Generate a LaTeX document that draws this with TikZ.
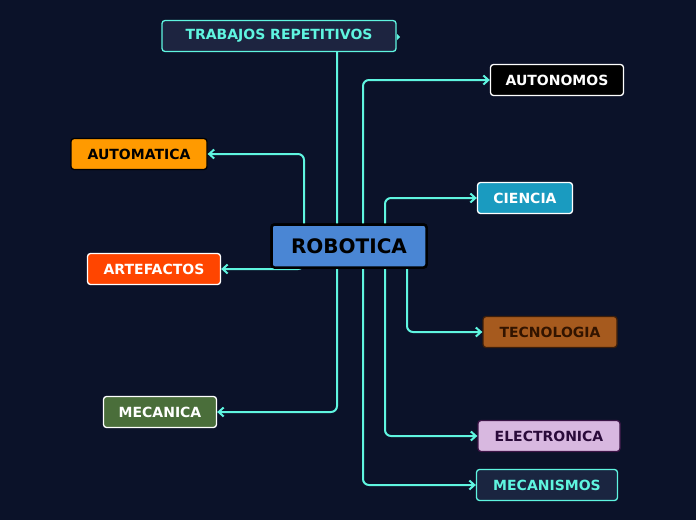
\documentclass[tikz,border=0pt]{standalone}
\usepackage{fontspec}
\setmainfont{DejaVu Sans}
\begin{document}
\begin{tikzpicture}[x=1pt,y=-1pt,
  box/.style={draw,rounded corners=3pt,line width=1.3pt,minimum height=31pt,inner sep=2pt,font=\fontsize{14}{16}\selectfont\bfseries},
  con/.style={draw=cyanl,line width=2pt,rounded corners=6pt},
  arr/.style={con,-{Straight Barb[length=5pt,width=9pt]}}]
\usetikzlibrary{arrows.meta}
\definecolor{bg}{HTML}{0B1229}
\definecolor{cyanl}{HTML}{5FF5E0}
\fill[bg] (0,0) rectangle (696,520);
\useasboundingbox (0,0) rectangle (696,520);
\node[box,fill=black,draw=black,line width=2.5pt,minimum width=155pt,minimum height=43pt,fill={rgb,255:red,74;green,134;blue,212},font=\fontsize{20}{22}\selectfont\bfseries,text=black] (rob) at (349,246) {ROBOTICA};
\node[box,fill={rgb,255:red,29;green,36;blue,64},draw=cyanl,text=cyanl,minimum width=234pt] (tra) at (279,36) {TRABAJOS REPETITIVOS};
\fill[cyanl] (397,34) -- (400,37) -- (397,40) -- cycle;
\node[box,fill=black,draw=white,text=white,minimum width=133pt] (aut) at (557,80) {AUTONOMOS};
\node[box,fill={rgb,255:red,255;green,154;blue,0},draw=black,text=black,minimum width=136pt] (atm) at (139,154) {AUTOMATICA};
\node[box,fill={rgb,255:red,26;green,155;blue,192},draw=white,text=white,minimum width=95pt] (cie) at (525,198) {CIENCIA};
\node[box,fill={rgb,255:red,255;green,69;blue,0},draw=white,text=white,minimum width=133pt] (art) at (154,269) {ARTEFACTOS};
\node[box,fill={rgb,255:red,166;green,90;blue,30},draw={rgb,255:red,60;green,30;blue,10},text={rgb,255:red,50;green,20;blue,0},minimum width=134pt] (tec) at (550,332) {TECNOLOGIA};
\node[box,fill={rgb,255:red,74;green,110;blue,58},draw=white,text=white,minimum width=113pt] (mec) at (160,412) {MECANICA};
\node[box,fill={rgb,255:red,216;green,184;blue,224},draw={rgb,255:red,60;green,20;blue,70},text={rgb,255:red,42;green,10;blue,58},minimum width=142pt] (ele) at (549,436) {ELECTRONICA};
\node[box,fill={rgb,255:red,26;green,37;blue,64},draw=cyanl,text=cyanl,minimum width=141pt] (mcs) at (547,485) {MECANISMOS};
\begin{scope}[on background layer/.style={}]
\end{scope}
\coordinate (t1) at (337,52);
\draw[arr] (t1) |- (mec.east);
\coordinate (a1) at (304,224);
\draw[arr] (a1) |- (atm.east);
\coordinate (a2) at (304,262);
\draw[arr] (a2) |- (art.east);
\coordinate (m1) at (363,267);
\draw[arr] (m1) |- (aut.west);
\draw[arr] (m1) |- (mcs.west);
\coordinate (c1) at (385,267);
\draw[arr] (c1) |- (cie.west);
\draw[arr] (c1) |- (ele.west);
\coordinate (e1) at (407,267);
\draw[arr] (e1) |- (tec.west);
\node[box,fill={rgb,255:red,74;green,134;blue,212},draw=black,line width=2.5pt,minimum width=155pt,minimum height=43pt,font=\fontsize{20}{22}\selectfont\bfseries,text=black] at (349,246) {ROBOTICA};
\end{tikzpicture}
\end{document}
